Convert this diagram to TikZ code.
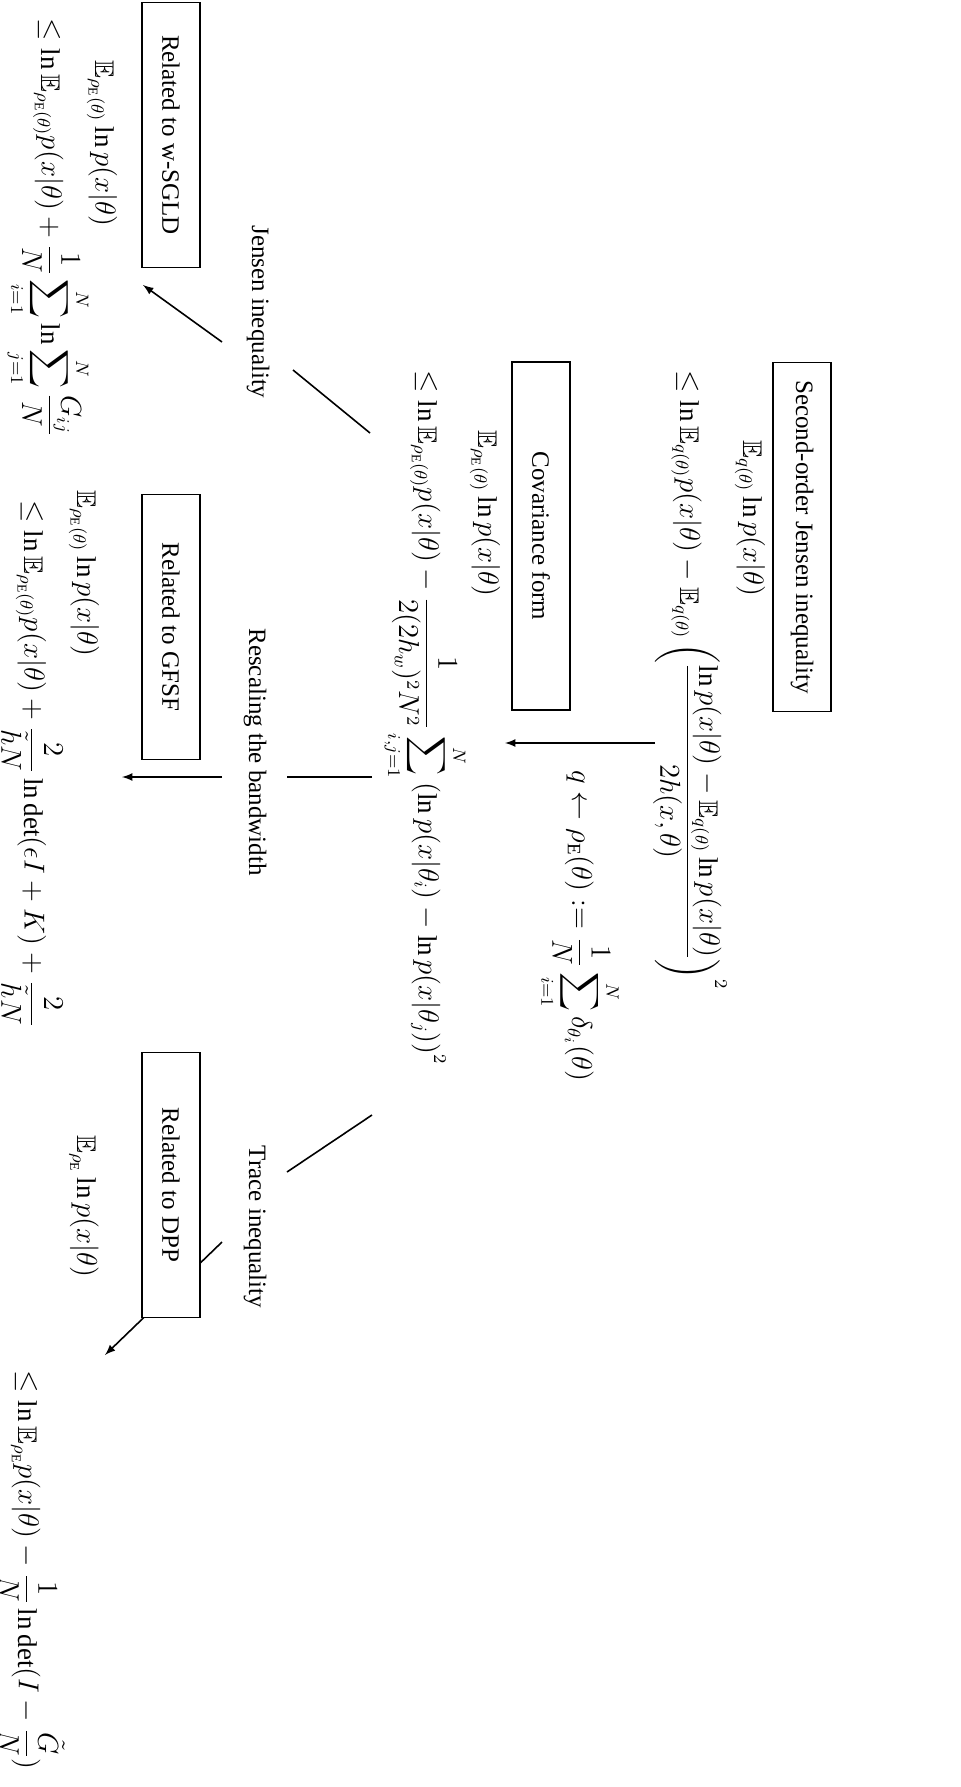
\documentclass[tikz,border=0pt]{standalone}
\usepackage{amsmath,amssymb}
\usepackage{fontspec}
\setmainfont{Liberation Serif}
\begin{document}
\begin{tikzpicture}[x=0.5pt,y=0.5pt,
  box/.style={draw,thick,fill=white,minimum width=#1*0.5pt,minimum height=29pt,inner sep=0pt,font=\fontsize{12.5}{14}\selectfont},
  lbl/.style={font=\fontsize{12.5}{14}\selectfont},
  fm/.style={anchor=west,inner sep=0pt,font=\fontsize{13.5}{15}\selectfont},
  arr/.style={-latex,thick}, ln/.style={thick}]
\useasboundingbox (0,0) rectangle (960,-1787);
\begin{scope}[rotate=-90,transform shape]
% top block
\node[box=349] (b1) at (537,802) {Second-order Jensen inequality};
\node[fm] (f1a) at (440,750) {$\mathbb{E}_{q(\theta)}\ln p(x|\theta)$};
\node[fm] (f1b) at (370,690) {$\displaystyle\leq \ln\mathbb{E}_{q(\theta)}p(x|\theta)-\mathbb{E}_{q(\theta)}\left(\frac{\ln p(x|\theta)-\mathbb{E}_{q(\theta)}\ln p(x|\theta)}{2h(x,\theta)}\right)^2$};
\node[fm] (q) at (770,580) {$\displaystyle q\leftarrow\rho_{\mathrm{E}}(\theta):=\frac{1}{N}\sum_{i=1}^{N}\delta_{\theta_i}(\theta)$};
\coordinate (a1s) at (743,655);
\coordinate (a1e) at (743,505);
\draw[arr] (a1s) -- (a1e);
% covariance block
\node[box=348] (b2) at (536,541) {Covariance form};
\node[fm] (f2a) at (430,485) {$\mathbb{E}_{\rho_{\mathrm{E}}(\theta)}\ln p(x|\theta)$};
\node[fm] (f2b) at (370,425) {$\displaystyle\leq \ln\mathbb{E}_{\rho_{\mathrm{E}}(\theta)}p(x|\theta)-\frac{1}{2(2h_w)^2N^2}\sum_{i,j=1}^{N}\left(\ln p(x|\theta_i)-\ln p(x|\theta_j)\right)^2$};
% branches
\coordinate (l1s) at (433,370); \coordinate (l1e) at (370,293);
\coordinate (l2s) at (342,222); \coordinate (l2e) at (285,143);
\draw[ln] (l1s) -- (l1e); \draw[arr] (l2s) -- (l2e);
\node[lbl] (t1) at (312,258) {Jensen inequality};
\coordinate (m1s) at (777,372); \coordinate (m1e) at (777,287);
\coordinate (m2s) at (777,222); \coordinate (m2e) at (777,122);
\draw[ln] (m1s) -- (m1e); \draw[arr] (m2s) -- (m2e);
\node[lbl] (t2) at (752,255) {Rescaling the bandwidth};
\coordinate (r1s) at (1115,372); \coordinate (r1e) at (1172,287);
\coordinate (r2s) at (1242,222); \coordinate (r2e) at (1355,105);
\draw[ln] (r1s) -- (r1e); \draw[arr] (r2s) -- (r2e);
\node[lbl] (t3) at (1227,255) {Trace inequality};
% bottom boxes
\node[box=265] (b3) at (135,171) {Related to w-SGLD};
\node[box=265] (b4) at (627,171) {Related to GFSF};
\node[box=265] (b5) at (1185,171) {Related to DPP};
\node[fm] (f3a) at (60,102) {$\mathbb{E}_{\rho_{\mathrm{E}}(\theta)}\ln p(x|\theta)$};
\node[fm] (f3b) at (18,48) {$\displaystyle\leq \ln\mathbb{E}_{\rho_{\mathrm{E}}(\theta)}p(x|\theta)+\frac{1}{N}\sum_{i=1}^{N}\ln\sum_{j=1}^{N}\frac{G_{ij}}{N}$};
\node[fm] (f4a) at (490,84) {$\mathbb{E}_{\rho_{\mathrm{E}}(\theta)}\ln p(x|\theta)$};
\node[fm] (f4b) at (500,32) {$\displaystyle\leq \ln\mathbb{E}_{\rho_{\mathrm{E}}(\theta)}p(x|\theta)+\frac{2}{\tilde hN}\ln\det(\epsilon I+K)+\frac{2}{\tilde hN}$};
\node[fm] (f5a) at (1135,84) {$\mathbb{E}_{\rho_{\mathrm{E}}}\ln p(x|\theta)$};
\node[fm] (f5b) at (1370,32) {$\displaystyle\leq \ln\mathbb{E}_{\rho_{\mathrm{E}}}p(x|\theta)-\frac{1}{N}\ln\det(I-\frac{\tilde G}{N})$};
\end{scope}
\end{tikzpicture}
\end{document}
